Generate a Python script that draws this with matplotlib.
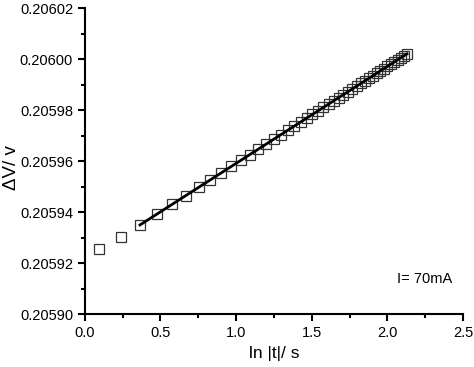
import numpy as np
import matplotlib
matplotlib.use('Agg')
from matplotlib import pyplot as plt
from matplotlib.ticker import MultipleLocator, FormatStrFormatter

plt.rcParams['font.family'] = ['Liberation Sans', 'DejaVu Sans']

# data: ln|t| and dV/V
ln_t = [0.0953, 0.2390, 0.3646, 0.4762, 0.5766, 0.6678, 0.7514, 0.8286, 0.9002,
        0.9670, 1.0296, 1.0886, 1.1442, 1.1969, 1.2470, 1.2947, 1.3403, 1.3838,
        1.4255, 1.4656, 1.5041, 1.5412, 1.5769, 1.6114, 1.6448, 1.6771, 1.7084,
        1.7387, 1.7681, 1.7967, 1.8245, 1.8516, 1.8779, 1.9036, 1.9286, 1.9530,
        1.9769, 2.0001, 2.0229, 2.0451, 2.0669, 2.0882, 2.1090, 2.1294]
dv = [0.2059255, 0.2059302, 0.2059350, 0.2059392, 0.2059430, 0.2059465, 0.2059497,
      0.2059526, 0.2059553, 0.2059579, 0.2059603, 0.2059625, 0.2059646, 0.2059666,
      0.2059685, 0.2059703, 0.2059721, 0.2059737, 0.2059753, 0.2059768, 0.2059783,
      0.2059797, 0.2059811, 0.2059824, 0.2059836, 0.2059849, 0.2059861, 0.2059872,
      0.2059883, 0.2059894, 0.2059905, 0.2059915, 0.2059925, 0.2059935, 0.2059944,
      0.2059953, 0.2059963, 0.2059971, 0.2059980, 0.2059988, 0.2059997, 0.2060005,
      0.2060013, 0.2060020]
fit_start = 2  # linear fit from the third point on

x = np.array(ln_t)
y = np.array(dv)
coef = np.polyfit(x[fit_start:], y[fit_start:], 1)
xf = np.array([x[fit_start], x[-1]])

fig = plt.figure(figsize=(4.74, 3.67), dpi=100)
ax = fig.add_axes([0.179, 0.144, 0.798, 0.834])

ax.plot(x, y, 's', ms=7, mfc='none', mec='#333333', mew=0.9)
ax.plot(xf, np.polyval(coef, xf), '-', color='black', lw=2)

ax.set_xlim(0, 2.5)
ax.set_ylim(0.20590, 0.20602)
ax.xaxis.set_major_locator(MultipleLocator(0.5))
ax.xaxis.set_minor_locator(MultipleLocator(0.25))
ax.yaxis.set_major_locator(MultipleLocator(0.00002))
ax.yaxis.set_minor_locator(MultipleLocator(0.00001))
ax.xaxis.set_major_formatter(FormatStrFormatter('%.1f'))
ax.yaxis.set_major_formatter(FormatStrFormatter('%.5f'))

for s in ['top', 'right']:
    ax.spines[s].set_visible(False)
for s in ['left', 'bottom']:
    ax.spines[s].set_linewidth(1.5)
ax.tick_params(which='major', direction='out', length=5, width=1.5, labelsize=10.5)
ax.tick_params(which='minor', direction='out', length=3, width=1.5)

ax.set_xlabel('ln |t|/ s', fontsize=12.5)
ax.set_ylabel('ΔV/ v', fontsize=13.5)
ax.yaxis.set_label_coords(-0.172, 0.48)
ax.text(2.06, 0.2059137, 'I= 70mA', fontsize=10.5, va='center')

plt.savefig('out.png', dpi=100)
